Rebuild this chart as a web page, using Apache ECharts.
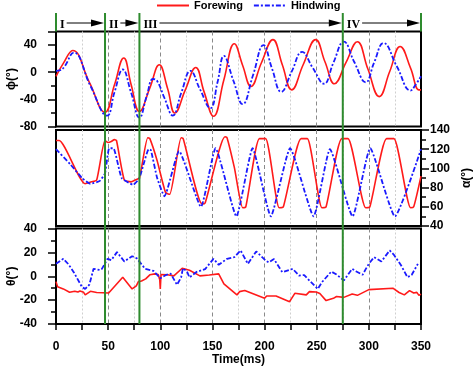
<!DOCTYPE html>
<html><head><meta charset="utf-8">
<script src="https://cdn.jsdelivr.net/npm/echarts@6/dist/echarts.min.js"></script>
<style>html,body{margin:0;padding:0;background:#fff}#c{width:474px;height:368px}</style>
</head><body><div id="c"></div>
<script>
// ---- data (time in ms) ----
const phiForeT = [0,7,16,32,47,56,65,72,80,90,99,107,114,124,134,142,151,161,171,179,187,197,208,217,226,237,249,258,267,278,289,299,310,320,330,340,348,350];
const phiForeV = [-6,13,32,-15,-59,-19,21,-18,-58,-23,11,-24,-60,-26,7,-29,-65,-11,42,10,-21,14,48,11,-26,11,48,15,-17,14,45,5,-36,1,38,6,-26,-26];
const phiHindT = [0,4,8,17,33,49,56,64,72,80,87,93,97,104,112,120,129,138,148,155,161,170,179,189,199,207,216,226,236,246,257,266,276,286,297,305,314,327,340,345,350];
const phiHindV = [2,3,8,29,-20,-64,-30,4,-30,-67,-35,-10,-13,-38,-64,-31,2,-25,-53,-14,24,-12,-47,-4,40,6,-29,1,30,7,-17,14,45,15,-15,14,43,8,-27,-18,-6];

const alphaForeT = [0,3,28,34,39,47,50,53,56,58,65.5,72,76,80,88,90,97,105,109,120,122,140,143,162,164,171,179,182,195,201,214,218,235,241,255,259,274,280,297,301,317,324,340,343,350];
const alphaForeV = [129,129,84,86,88,129,127,128,130,129,88,86,88,90,132,131,108,75,73,132,131,63,64,133,132,101,59,60,131,131,59,60,131,131,59,60,131,131,59,60,131,131,59,60,92];
const alphaHindT = [0,14,25,33,42,47,51,55,63,74,80,89,91,97,104,118,139,153,173,188.5,206,224.5,247,262.7,284.4,301.3,325,350];
const alphaHindV = [120,104,90,84,87,95,121,121,90,83,90,120,119,90,71,118,60,121,50,121,50,121,50,120,50,121,50,120];

const thetaForeT = [0,1.5,7,13,18,21,23,26.5,28,33,39,50.5,64,73,77,79,82,86,90,95,98,99.5,100,100.7,107,113,121,128,138,147,156,161,173.5,176,181,200,202,211,224,229,240,243,249.5,253,259,266,269,276,284,289,300,323,329,334,339,343,346,348,350];
const thetaForeV = [-4.5,-8.7,-10.6,-13.4,-12.5,-13.2,-12.4,-13.5,-15.6,-12.6,-13.6,-14,-0.8,-10.6,-8,-4.5,-4,-2.2,1.2,2,1.5,-3,-10.6,1.5,1.2,0.3,6.7,5,0.3,1,2,-6.4,-15.6,-12.9,-12,-18.5,-16.5,-16.5,-21.3,-14.3,-15.6,-12.9,-13.2,-14.5,-20.4,-18.5,-17,-17.7,-14.8,-16,-11.2,-10,-13.6,-15.6,-12,-14,-13.5,-16,-15];
const thetaHindT = [0,7,12,17,25,28,32,36,42,44,49.5,53,58.5,65.5,73,77.5,85.5,93.5,100,105,110,116,120,121.7,125.6,128,135,143,151,156,164,171,177,184,192,201,204,209,217,227,233,238,243,251,255,264,269,276,284,288,294,297,300,305,312,320,324,331,337,341,347];
const thetaHindV = [10.4,14.6,10,3.4,-9.2,-10.6,-7,6.2,5.2,6.2,14.6,13.5,20.2,12.4,16.8,15,6.2,4.5,-1.7,0.9,2.2,-7.2,-1,6.7,4,-1,3.7,6,14.6,9.6,14.6,16,21.6,10.4,20.8,13.2,11.5,14.4,3.4,6.2,0.6,1,-3.6,-10.6,-5,3.9,1.5,-3.6,6.2,4,1.2,6,10.4,16,12.4,21.6,18,9,-0.8,1,10.4];

const timeTicks = [0,50,100,150,200,250,300,350];
const phiTicks = [-80,-40,0,40];
const alphaTicks = [40,60,80,100,120,140];
const thetaTicks = [-40,-20,0,20,40];

const phaseBounds = [0,47,80,275,350];
const phaseLabels = ['I','II','III','IV'];
const legendNames = ['Forewing','Hindwing'];

// ---- styling ----
const RED = '#ff1a1a', BLUE = '#1a1aff', GREEN = '#2e8b2e';
const FONT = 'Liberation Sans, Arial, sans-serif';
const lab = {color:'#000', fontWeight:'bold', fontSize:12, fontFamily:FONT};
const zip = (t, v) => t.map((x, i) => [x, v[i]]);

const GRIDS = [
  {left:56, width:365, top:31.5, height:95},
  {left:56, width:365, top:130, height:96},
  {left:56, width:365, top:228.5, height:95.5}
];

function xAx(i, showLabels){
  return {
    type:'value', gridIndex:i, min:timeTicks[0], max:timeTicks[timeTicks.length-1], interval:50,
    axisLine:{show:showLabels, onZero:false, lineStyle:{color:'#000', width:2}},
    axisTick:{show:showLabels, length:6, lineStyle:{color:'#000', width:1.5}},
    minorTick:{show:showLabels, splitNumber:2, length:6, lineStyle:{color:'#000', width:1.5}},
    axisLabel:Object.assign({show:showLabels, margin:17}, lab),
    splitLine:{show:true, showMinLine:false, showMaxLine:false, lineStyle:{color:'#8a8a8a', width:1, type:[4,3]}},
    minorSplitLine:{show:true, lineStyle:{color:'#cfcfcf', width:1, type:[2,2]}},
    name: showLabels ? 'Time(ms)' : '', nameLocation:'middle', nameGap:30, nameMoveOverlap:false,
    nameTextStyle:{color:'#000', fontWeight:'bold', fontSize:12, fontFamily:FONT}
  };
}
function yAx(i, ticks, pos, name, gap, margin, hideMax){
  const iv = ticks[1]-ticks[0];
  return {
    type:'value', gridIndex:i, position:pos, min:ticks[0], max: hideMax ? hideMax : ticks[ticks.length-1], interval:iv,
    axisLine:{show:true, onZero:false, lineStyle:{color:'#000', width:2}},
    axisTick:{show:true, length:8, lineStyle:{color:'#000', width:1.5}},
    minorTick:{show:true, splitNumber:2, length:5, lineStyle:{color:'#000', width:1.5}},
    axisLabel:Object.assign({margin:margin, showMaxLabel: hideMax ? false : true,
      formatter: v => ticks.indexOf(v) >= 0 ? String(v) : ''}, lab),
    splitLine:{show:false},
    name:name, nameLocation:'middle', nameGap:gap, nameRotate:90, nameMoveOverlap:false,
    nameTextStyle:{color:'#000', fontWeight:'bold', fontSize:12, fontFamily:FONT}
  };
}

function lineSeries(name, xi, yi, data, color, smooth, dashed){
  return {
    name:name, type:'line', xAxisIndex:xi, yAxisIndex:yi, data:data,
    symbol:'none', showSymbol:false, smooth:smooth, animation:false,
    lineStyle:{color:color, width: dashed ? 1.8 : 1.6, type: dashed ? [5,2,2,2] : 'solid'},
    itemStyle:{color:color}, z:3
  };
}

const chart = echarts.init(document.getElementById('c'), null, {renderer:'canvas'});
chart.setOption({
  animation:false,
  backgroundColor:'#fff',
  legend:{data:legendNames, top:0, left:156, padding:0, itemWidth:32, itemHeight:12, itemGap:10,
    itemStyle:{opacity:0, borderWidth:0},
    textStyle:{color:'#000', fontWeight:'bold', fontSize:11, fontFamily:FONT}},
  grid: GRIDS.map(g => Object.assign({show:true, borderColor:'#000', borderWidth:2, backgroundColor:'transparent', outerBoundsMode:'none', containLabel:false}, g)),
  xAxis:[xAx(0,false), xAx(1,false), xAx(2,true)],
  yAxis:[
    yAx(0, phiTicks, 'left', 'ϕ(°)', 38, 19, 60),
    yAx(1, alphaTicks, 'right', 'α(°)', 40, 9, 0),
    yAx(2, thetaTicks, 'left', 'θ(°)', 38, 19, 0)
  ],
  series:[
    lineSeries(legendNames[0], 0, 0, zip(phiForeT, phiForeV), RED, 0.45, false),
    lineSeries(legendNames[1], 0, 0, zip(phiHindT, phiHindV), BLUE, 0.45, true),
    lineSeries(legendNames[0], 1, 1, zip(alphaForeT, alphaForeV), RED, 0.2, false),
    lineSeries(legendNames[1], 1, 1, zip(alphaHindT, alphaHindV), BLUE, 0.15, true),
    lineSeries(legendNames[0], 2, 2, zip(thetaForeT, thetaForeV), RED, false, false),
    lineSeries(legendNames[1], 2, 2, zip(thetaHindT, thetaHindV), BLUE, false, true)
  ]
});

// ---- phase annotations, positioned through the axes ----
const gx = t => chart.convertToPixel({xAxisIndex:0}, t);
const topY = chart.convertToPixel({yAxisIndex:0}, 60);
const botY = chart.convertToPixel({yAxisIndex:2}, thetaTicks[0]);
const lineTop = topY - 18.5, arrowY = topY - 8.5;
const ctx = document.createElement('canvas').getContext('2d');
const ROMAN = 'bold 12px "Liberation Serif", "Times New Roman", serif';
ctx.font = ROMAN;
const els = [];
phaseBounds.forEach((b, i) => {
  const x = gx(b);
  const inner = i > 0 && i < phaseBounds.length - 1;
  els.push({type:'line', z:50, shape:{x1:x, y1:lineTop, x2:x, y2: inner ? botY : topY},
    style:{stroke:GREEN, lineWidth:2}});
});
phaseLabels.forEach((s, i) => {
  const x0 = gx(phaseBounds[i]) + 4, x1 = gx(phaseBounds[i+1]);
  const w = ctx.measureText(s).width;
  els.push({type:'text', z:50, x:x0, y:arrowY + 1.5, style:{text:s, font:ROMAN, fill:'#000', align:'left', verticalAlign:'middle'}});
  els.push({type:'line', z:50, shape:{x1:x0 + w + 2, y1:arrowY, x2:x1 - 12, y2:arrowY}, style:{stroke:'#000', lineWidth:1}});
  els.push({type:'polygon', z:50, shape:{points:[[x1 - 1, arrowY], [x1 - 14, arrowY - 3.5], [x1 - 14, arrowY + 3.5]]}, style:{fill:'#000'}});
});
chart.setOption({graphic:els});
</script>
</body></html>
